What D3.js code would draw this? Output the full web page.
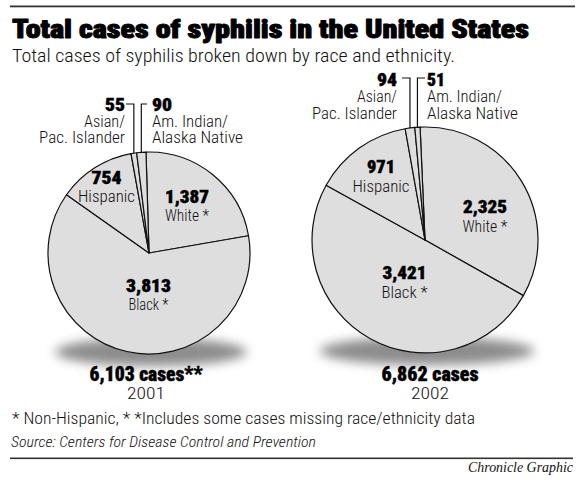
<!DOCTYPE html>
<html><head><meta charset="utf-8">
<script src="https://cdn.jsdelivr.net/npm/d3@7"></script>
<style>body{margin:0;background:#fff} svg{display:block}</style>
</head><body>
<script>
// ---- data ----
const categories = ["White*", "Black*", "Hispanic", "Asian/Pac. Islander", "Am. Indian/Alaska Native"];
const labelLines = [["White *"], ["Black *"], ["Hispanic"], ["Asian/", "Pac. Islander"], ["Am. Indian/", "Alaska Native"]];
const cases2001 = [1387, 3813, 754, 55, 90];
const cases2002 = [2325, 3421, 971, 94, 51];
const totals = [6103, 6862];
const totalSuffix = [" cases**", " cases"];
const years = ["2001", "2002"];

// ---- layout ----
const W = 580, H = 480;
const FONT = "'Liberation Sans Narrow','Roboto Condensed','DejaVu Sans Condensed',Roboto,'Liberation Sans',sans-serif";
const fmt = d3.format(",");
const svg = d3.select("body").append("svg").attr("width", W).attr("height", H);

function fit(sel, w) { if (w) sel.attr("textLength", w).attr("lengthAdjust", "spacingAndGlyphs"); return sel; }

const defs = svg.append("defs");
defs.append("filter").attr("id", "blur").attr("x", "-30%").attr("y", "-100%").attr("width", "160%").attr("height", "300%")
  .append("feGaussianBlur").attr("stdDeviation", 5.5);

// rules
svg.append("rect").attr("x", 10).attr("y", 5.5).attr("width", 565).attr("height", 1.8).attr("fill", "#333");
svg.append("rect").attr("x", 10).attr("y", 457.5).attr("width", 563).attr("height", 1.6).attr("fill", "#333");

// title & subtitle
fit(svg.append("text").attr("x", 12).attr("y", 37.5).attr("font-family", FONT).attr("font-weight", 900)
  .attr("font-size", 25).attr("fill", "#000").attr("stroke", "#000").attr("stroke-width", 0.9)
  .attr("stroke-linejoin", "round").text("Total cases of syphilis in the United States"), 517);
fit(svg.append("text").attr("x", 12).attr("y", 62).attr("font-family", FONT).attr("font-weight", 300)
  .attr("font-size", 17.5).attr("fill", "#111").text("Total cases of syphilis broken down by race and ethnicity."), 443);

const layouts = [
  { values: cases2001, cx: 149, cy: 253, r: 101, start: -1.7, gap: 18, lineStep: 16, elbow: 104, totalX: 146,
    pos: [
      { x: 187, y: 203, anchor: "middle", nw: 44, lw: [44] },
      { x: 148.5, y: 292, anchor: "middle", nw: 45, lw: [40] },
      { x: 106.5, y: 184, anchor: "middle", nw: 30, lw: [57] },
      { x: 125, y: 111, anchor: "end", nw: 20, lw: [41, 86], tick: 126 },
      { x: 152, y: 111, anchor: "start", nw: 20, lw: [76, 91], tick: 147 }
    ], totalW: 113 },
  { values: cases2002, cx: 425, cy: 240, r: 113, start: -2.5, gap: 19, lineStep: 17, elbow: 78, totalX: 430,
    pos: [
      { x: 485, y: 213, anchor: "middle", nw: 44, lw: [45] },
      { x: 404.5, y: 279, anchor: "middle", nw: 44, lw: [46] },
      { x: 381, y: 173, anchor: "middle", nw: 28, lw: [57] },
      { x: 397, y: 86, anchor: "end", nw: 20, lw: [40, 85], tick: 402 },
      { x: 427, y: 86, anchor: "start", nw: 18, lw: [75, 91], tick: 425 }
    ], totalW: 97 }
];

layouts.forEach((L, i) => {
  const g = svg.append("g");
  const s = L.start * Math.PI / 180;
  const pie = d3.pie().sort(null).startAngle(s).endAngle(s + 2 * Math.PI);
  const arcs = pie(L.values);
  const arc = d3.arc().innerRadius(0).outerRadius(L.r);

  // shadow
  g.append("ellipse").attr("cx", L.cx + 2).attr("cy", L.cy + L.r - 2).attr("rx", L.r * 0.95).attr("ry", 14)
    .attr("fill", "#666").attr("opacity", 0.75).attr("filter", "url(#blur)");

  const pg = g.append("g").attr("transform", `translate(${L.cx},${L.cy})`);
  pg.selectAll("path").data(arcs).join("path").attr("d", arc)
    .attr("fill", "#dedede").attr("stroke", "#111").attr("stroke-width", 1.2).attr("stroke-linejoin", "round");

  // labels
  arcs.forEach((a, k) => {
    const p = L.pos[k];
    fit(g.append("text").attr("x", p.x).attr("y", p.y).attr("text-anchor", p.anchor)
      .attr("font-family", FONT).attr("font-weight", 900).attr("font-size", 17.5).attr("fill", "#000")
      .attr("stroke", "#000").attr("stroke-width", 0.4)
      .text(fmt(L.values[k])), p.nw);
    labelLines[k].forEach((ln, j) => {
      const yy = p.y + (labelLines[k].length > 1 ? 16 + j * L.lineStep : L.gap);
      fit(g.append("text").attr("x", p.x).attr("y", yy).attr("text-anchor", p.anchor)
        .attr("font-family", FONT).attr("font-weight", 300).attr("font-size", 16.5).attr("fill", "#111")
        .text(ln), p.lw[j]);
    });
    if (p.tick !== undefined) {
      const mid = (a.startAngle + a.endAngle) / 2;
      const lx = L.cx + L.r * Math.sin(mid);
      const ly = L.cy - L.r * Math.cos(mid);
      g.append("path").attr("d", `M${p.tick},${L.elbow}H${lx}V${ly}`)
        .attr("fill", "none").attr("stroke", "#111").attr("stroke-width", 1.2);
    }
  });

  // totals & year
  fit(g.append("text").attr("x", L.totalX).attr("y", 381).attr("text-anchor", "middle")
    .attr("font-family", FONT).attr("font-weight", 900).attr("font-size", 19.5).attr("fill", "#000")
    .attr("stroke", "#000").attr("stroke-width", 0.4)
    .text(fmt(totals[i]) + totalSuffix[i]), L.totalW);
  fit(g.append("text").attr("x", L.totalX).attr("y", 399).attr("text-anchor", "middle")
    .attr("font-family", FONT).attr("font-weight", 300).attr("font-size", 17).attr("fill", "#111")
    .text(years[i]), 38);
});

// footnotes
fit(svg.append("text").attr("x", 12).attr("y", 424).attr("font-family", FONT).attr("font-weight", 300)
  .attr("font-size", 16).attr("fill", "#111").text("* Non-Hispanic, * *Includes some cases missing race/ethnicity data"), 463);
fit(svg.append("text").attr("x", 11).attr("y", 447).attr("font-family", FONT).attr("font-weight", 300)
  .attr("font-style", "italic").attr("font-size", 14.5).attr("fill", "#111").text("Source: Centers for Disease Control and Prevention"), 305);
fit(svg.append("text").attr("x", 573).attr("y", 472).attr("text-anchor", "end")
  .attr("font-family", "'Liberation Serif','DejaVu Serif',serif").attr("font-style", "italic")
  .attr("font-size", 14.5).attr("fill", "#111").text("Chronicle Graphic"), 105);
</script>
</body></html>
